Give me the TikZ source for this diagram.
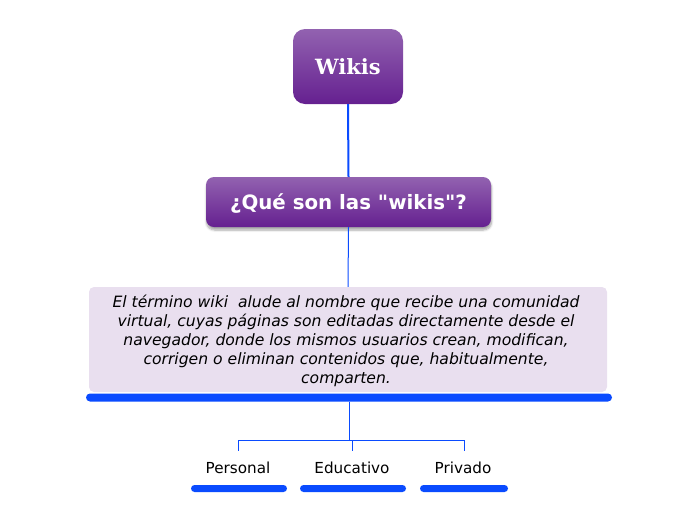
\documentclass[tikz,border=0pt]{standalone}
\usepackage{fontspec}
\setmainfont{DejaVu Sans}[Ligatures=TeXOff]
\newfontfamily\titlefont{DejaVu Serif}
\usetikzlibrary{shadows.blur}
\definecolor{lnblue}{HTML}{0A4BFF}
\definecolor{ptop}{HTML}{9262B0}
\definecolor{pbot}{HTML}{652090}
\definecolor{lav}{HTML}{E9DFEF}
\tikzset{
  purplebox/.style={rounded corners=12pt, top color=ptop, bottom color=pbot, draw=none, text=white, inner sep=0pt},
  conn/.style={draw=lnblue, line width=1.2pt},
  thinconn/.style={draw=lnblue, line width=1pt},
  bar/.style={fill=lnblue, draw=none, rounded corners=3.5pt, inner sep=0pt, minimum height=7pt},
  lbl/.style={font=\fontsize{15.2}{18}\selectfont, inner sep=0pt, text=black}
}
\begin{document}
\begin{tikzpicture}[x=1pt,y=-1pt]
\useasboundingbox (0,0) rectangle (696,520);
\node[purplebox, minimum width=110pt, minimum height=75pt] (wikis) at (348,66.5) {\titlefont\bfseries\fontsize{21}{25}\selectfont Wikis};
\node[purplebox, rounded corners=8pt, minimum width=285pt, minimum height=50pt, blur shadow={shadow xshift=0.5pt, shadow yshift=-3pt, shadow blur steps=6, shadow opacity=35}] (que) at (348.5,202) {};
\node[text=white, inner sep=0pt, font=\fontsize{19.8}{24}\selectfont\bfseries] (quetext) at (348.5,203.5) {¿Qué son las "wikis"?};
\node[fill=lav, rounded corners=5pt, minimum width=518pt, minimum height=105pt, inner sep=0pt] (txt) at (348,339.5) {};
\node[inner sep=0pt, align=center, font=\fontsize{15.6}{19}\selectfont\itshape] (txtbody) at (346,341) {El término wiki\ \ alude al nombre que recibe una comunidad\\ virtual, cuyas páginas son editadas directamente desde el\\ navegador, donde los mismos usuarios crean, modifican,\\ corrigen o eliminan contenidos que, habitualmente,\\ comparten.};
\node[bar, minimum width=526pt, minimum height=8pt, rounded corners=4pt] (mainbar) at (349,397.5) {};
\node[lbl] (pers) at (238,468) {Personal};
\node[lbl] (edu) at (352,468) {Educativo};
\node[lbl] (priv) at (463,468) {Privado};
\node[bar, minimum width=96pt] (b1) at (239,488.5) {};
\node[bar, minimum width=106pt] (b2) at (353,488.5) {};
\node[bar, minimum width=88pt] (b3) at (464,488.5) {};
\coordinate (junc) at (349,440);
\coordinate (t1) at (238,451);
\coordinate (t2) at (352,451);
\coordinate (t3) at (464,451);
\draw[conn, line width=2pt] (wikis.south) -- (que.north);
\draw[thinconn] (que.south) -- (txt.north);
\draw[thinconn] (mainbar.south) -- (junc);
\draw[thinconn] (junc) -| (t1);
\draw[thinconn] (junc) -| (t3);
\draw[thinconn] (t2 |- junc) -- (t2);
\end{tikzpicture}
\end{document}
